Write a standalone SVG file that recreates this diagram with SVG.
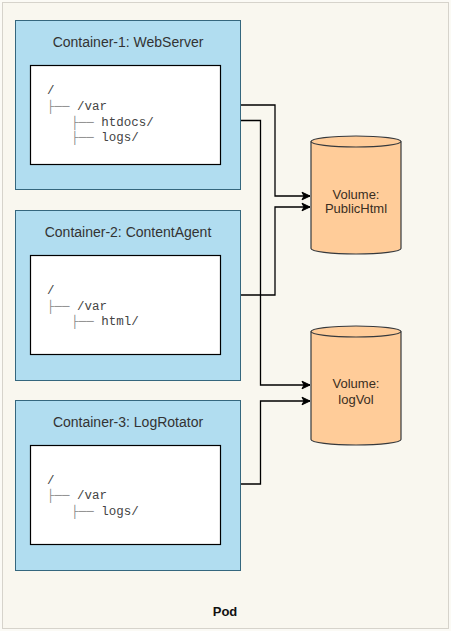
<svg xmlns="http://www.w3.org/2000/svg" width="451" height="631" viewBox="0 0 451 631">
<style>
.bg{fill:#f9f7ef;stroke:#d6d3cb;stroke-width:1}
.cont{fill:#b1ddf0;stroke:#35677e;stroke-width:1}
.inner{fill:#ffffff;stroke:#000000;stroke-width:1.2}
.title{font-family:"Liberation Sans",Arial,sans-serif;font-size:14px;fill:#333333;text-anchor:middle}
.tree{font-family:"Liberation Mono","DejaVu Sans Mono",monospace;font-size:12.5px;fill:#444444;white-space:pre}
.br{fill:#8a8a8a}
.cyl{fill:#ffcc99;stroke:#36393d;stroke-width:1.2}
.vlab{font-family:"Liberation Sans",Arial,sans-serif;font-size:13px;fill:#3a2e22;text-anchor:middle}
.pod{font-family:"Liberation Sans",Arial,sans-serif;font-size:13px;font-weight:bold;fill:#111111;text-anchor:middle}
.conn{fill:none;stroke:#000000;stroke-width:1.3}
</style>
<defs>
<marker id="arr" markerUnits="userSpaceOnUse" markerWidth="10" markerHeight="10" refX="9" refY="5" orient="auto">
<path d="M1,1.2 L9,5 L1,8.8 L3,5 Z" fill="#000000" stroke="#000000" stroke-width="1"/>
</marker>
</defs>
<rect x="0" y="0" width="451" height="631" fill="#fbfaf5"/>
<rect class="bg" x="2.5" y="2.5" width="446" height="626"/>

<g id="container1">
<rect class="cont" x="15.5" y="20.5" width="225" height="169"/>
<text class="title" x="128" y="46.5">Container-1: WebServer</text>
<rect class="inner" x="30.5" y="65.5" width="190" height="99"/>
<text class="tree" x="47" y="94">/</text>
<text class="tree" x="47" y="110"><tspan class="br">├──</tspan> /var</text>
<text class="tree" x="71.3" y="125.5"><tspan class="br">├──</tspan> htdocs/</text>
<text class="tree" x="71.3" y="141"><tspan class="br">├──</tspan> logs/</text>
</g>

<g id="container2">
<rect class="cont" x="15.5" y="210.5" width="225" height="170"/>
<text class="title" x="128" y="236.5">Container-2: ContentAgent</text>
<rect class="inner" x="30.5" y="255.5" width="190" height="99"/>
<text class="tree" x="47" y="294">/</text>
<text class="tree" x="47" y="309.5"><tspan class="br">├──</tspan> /var</text>
<text class="tree" x="71.3" y="325"><tspan class="br">├──</tspan> html/</text>
</g>

<g id="container3">
<rect class="cont" x="15.5" y="400.5" width="225" height="170"/>
<text class="title" x="128" y="426.5">Container-3: LogRotator</text>
<rect class="inner" x="30.5" y="445.5" width="190" height="99"/>
<text class="tree" x="47" y="483.5">/</text>
<text class="tree" x="47" y="499"><tspan class="br">├──</tspan> /var</text>
<text class="tree" x="71.3" y="514.5"><tspan class="br">├──</tspan> logs/</text>
</g>

<g id="volume-publichtml">
<path class="cyl" d="M311,141.5 A45,5.5 0 0 1 401,141.5 L401,248.5 A45,5.5 0 0 1 311,248.5 Z"/>
<path d="M311,141.5 A45,5.5 0 0 0 401,141.5" fill="none" stroke="#36393d" stroke-width="1.2"/>
<text class="vlab" x="356" y="198.5">Volume:</text>
<text class="vlab" x="356" y="213">PublicHtml</text>
</g>

<g id="volume-logvol">
<path class="cyl" d="M311,331.5 A45,5.5 0 0 1 401,331.5 L401,439.5 A45,5.5 0 0 1 311,439.5 Z"/>
<path d="M311,331.5 A45,5.5 0 0 0 401,331.5" fill="none" stroke="#36393d" stroke-width="1.2"/>
<text class="vlab" x="356" y="388">Volume:</text>
<text class="vlab" x="356" y="403.5">logVol</text>
</g>

<g id="pod-label">
<text class="pod" x="225" y="616">Pod</text>
</g>

<g id="connectors">
<path class="conn" marker-end="url(#arr)" d="M241,105 H275 V196 H310"/>
<path class="conn" marker-end="url(#arr)" d="M241,295 H275 V207 H310"/>
<path class="conn" marker-end="url(#arr)" d="M241,120.5 H260.5 V385 H310"/>
<path class="conn" marker-end="url(#arr)" d="M241,484 H260.5 V401 H310"/>
</g>
</svg>
